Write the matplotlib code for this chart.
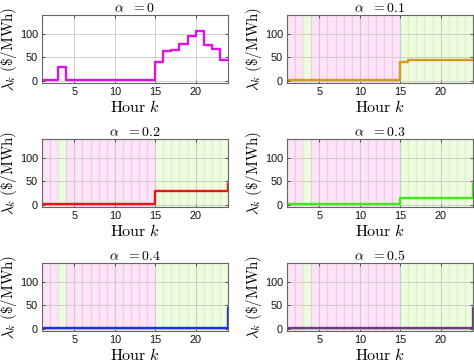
import matplotlib
matplotlib.use("Agg")
import matplotlib.pyplot as plt

# ---------------- data ----------------
hours = list(range(1, 25))
alphas = ["0", "0.1", "0.2", "0.3", "0.4", "0.5"]
price_a0 = [1.5, 1.5, 30, 1.5, 1.5, 1.5, 1.5, 1.5, 1.5, 1.5, 1.5, 1.5, 1.5, 1.5,
            40, 63, 66, 78, 95, 105, 77, 67, 45, 45]
price_a01 = [1.5] * 14 + [40] + [44] * 8 + [45]
price_a02 = [1.5] * 14 + [29] * 9 + [45]
price_a03 = [1.5] * 14 + [14] * 9 + [45]
price_a04 = [1.5] * 23 + [45]
price_a05 = [1.5] * 23 + [45]
series = [price_a0, price_a01, price_a02, price_a03, price_a04, price_a05]
line_colors = ["#E010E8", "#D49A1E", "#F01010", "#3CEB14", "#1A32E0", "#6A3C80"]
# regime of each hour interval [k, k+1], k = 1..23 (P = pink, G = green)
regimes = ["P", "P", "G"] + ["P"] * 11 + ["G"] * 9
shaded = [False, True, True, True, True, True]
regime_face = {"P": "#FCE3F6", "G": "#EDFBDF"}
regime_edge = {"P": "#F2C6E8", "G": "#D8F1C0"}

# ---------------- style ----------------
plt.rcParams["mathtext.fontset"] = "cm"
plt.rcParams["font.family"] = ["Liberation Sans", "DejaVu Sans"]

W, H = 474, 364
fig = plt.figure(figsize=(W / 100, H / 100), dpi=100)

col_x = [42, 287]
ax_w = 186
row_top = [15, 139, 263]
ax_h = 68

for i in range(6):
    r, c = divmod(i, 2)
    left = col_x[c] / W
    bottom = 1 - (row_top[r] + ax_h) / H
    ax = fig.add_axes([left, bottom, ax_w / W, ax_h / H])

    if shaded[i]:
        for k, reg in enumerate(regimes):
            ax.axvspan(hours[k], hours[k] + 1, facecolor=regime_face[reg],
                       edgecolor=regime_edge[reg], linewidth=0.8, zorder=0)

    ax.step(hours, series[i], where="post", color=line_colors[i], lw=1.7,
            zorder=3, clip_on=True)

    ax.set_xlim(1, 24)
    ax.set_ylim(-5, 140)
    ax.set_xticks([5, 10, 15, 20])
    ax.set_yticks([0, 50, 100])
    ax.set_axisbelow(True)
    ax.grid(True, color="#C8C8C8", lw=0.6, zorder=1)
    ax.tick_params(direction="in", length=2.5, width=0.6, labelsize=7.8,
                   top=True, right=True, pad=3, colors="#333333",
                   labelcolor="#111111")
    for s in ax.spines.values():
        s.set_color("#666666")
        s.set_linewidth(0.8)
        s.set_zorder(4)

    ax.set_title(r"$\alpha\ \ = %s$" % alphas[i], fontsize=10, pad=2.5)
    ax.set_xlabel(r"$\mathrm{Hour}\ k$", fontsize=11.5, labelpad=1)
    ax.set_ylabel(r"$\lambda_k\ (\$/\mathrm{MWh})$", fontsize=10.8, labelpad=0.5)

fig.savefig("out.png", dpi=100)
